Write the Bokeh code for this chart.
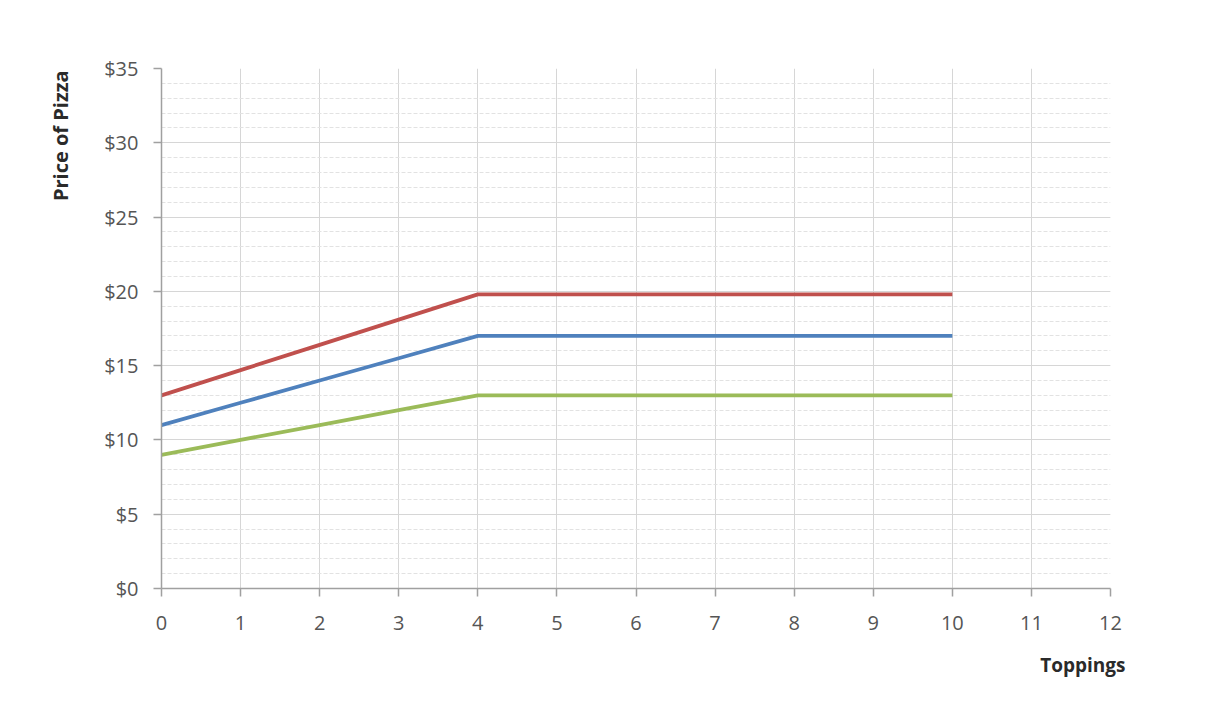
from bokeh.plotting import figure
from bokeh.models import NumeralTickFormatter, FixedTicker, Range1d, Title
from bokeh.embed import file_html
from bokeh.resources import INLINE

toppings = [0, 1, 2, 3, 4, 5, 6, 7, 8, 9, 10]
red_price = [13, 14.7, 16.4, 18.1, 19.8, 19.8, 19.8, 19.8, 19.8, 19.8, 19.8]
blue_price = [11, 12.5, 14, 15.5, 17, 17, 17, 17, 17, 17, 17]
green_price = [9, 10, 11, 12, 13, 13, 13, 13, 13, 13, 13]
x_ticks = list(range(0, 13))
y_ticks = [0, 5, 10, 15, 20, 25, 30, 35]

FONT = "Open Sans"

p = figure(frame_width=949, frame_height=520, output_backend="svg", toolbar_location=None,
           x_range=Range1d(0, 12), y_range=Range1d(0, 35),
           min_border_left=161, min_border_top=68, min_border_right=90, min_border_bottom=100)
p.outline_line_color = None
p.background_fill_color = "white"
p.border_fill_color = "white"

p.line(toppings, red_price, line_color="#c0504d", line_width=3.8)
p.line(toppings, blue_price, line_color="#4f81bd", line_width=3.8)
p.line(toppings, green_price, line_color="#9bbb59", line_width=3.8)

p.xaxis.ticker = FixedTicker(ticks=x_ticks)
p.yaxis.ticker = FixedTicker(ticks=y_ticks, minor_ticks=list(range(0, 36)))
p.yaxis.formatter = NumeralTickFormatter(format="$0")

for ax in (p.xaxis, p.yaxis):
    ax.axis_line_color = "#a0a0a0"
    ax.axis_line_width = 1.5
    ax.major_tick_line_color = "#a0a0a0"
    ax.major_tick_line_width = 1.5
    ax.major_tick_out = 8
    ax.major_tick_in = 0
    ax.minor_tick_line_color = None
    ax.major_label_text_font = FONT
    ax.major_label_text_font_size = "20px"
    ax.major_label_text_color = "#555555"

p.xaxis.major_label_standoff = 19
p.yaxis.major_label_standoff = 15

p.xgrid.grid_line_color = "#d6d6d6"
p.xgrid.grid_line_width = 1
p.ygrid.grid_line_color = "#d6d6d6"
p.ygrid.grid_line_width = 1
p.ygrid.minor_grid_line_color = "#e2e2e2"
p.ygrid.minor_grid_line_dash = "4 2"
p.ygrid.minor_grid_line_width = 1

yt = Title(text="Price of Pizza", align="right", offset=2, standoff=55,
           text_font=FONT, text_font_size="20px", text_font_style="bold",
           text_color="#2a2a2a")
p.add_layout(yt, "left")

xt = Title(text="Toppings", align="right", offset=-15, standoff=35,
           text_font=FONT, text_font_size="19px", text_font_style="bold",
           text_color="#2a2a2a")
p.add_layout(xt, "below")

open("out.html", "w").write(file_html(p, INLINE))
